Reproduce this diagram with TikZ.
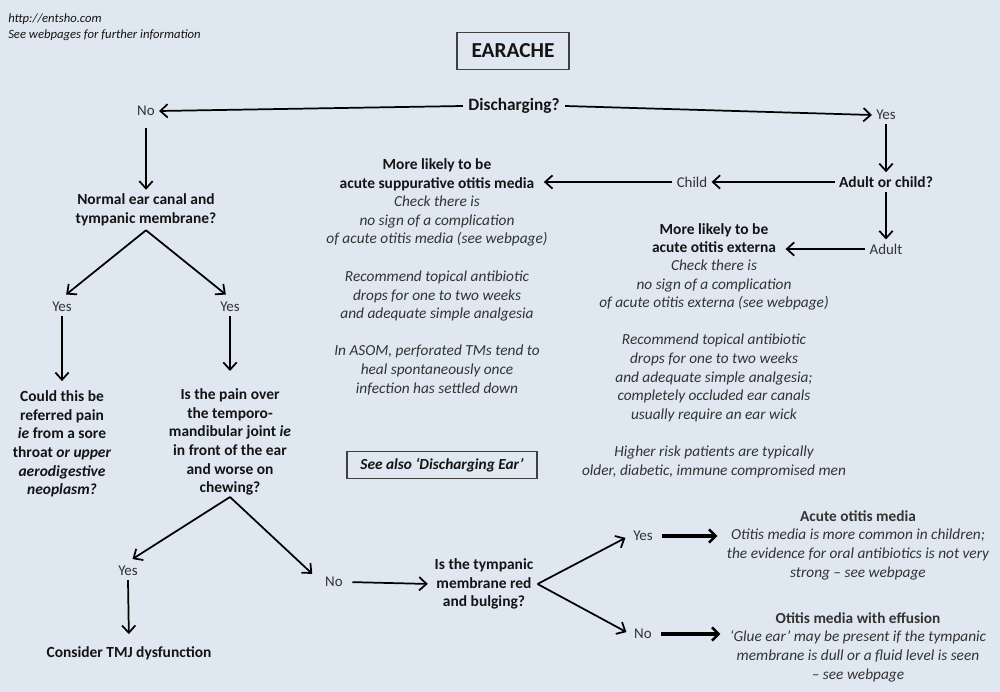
\documentclass[tikz,border=0pt]{standalone}
\usepackage{fontspec}
\setmainfont{Carlito}
\usetikzlibrary{arrows.meta,calc}
\definecolor{bg}{HTML}{DFE7F1}
\definecolor{txt}{HTML}{141414}
\definecolor{lbl}{HTML}{333333}
\begin{document}
\begin{tikzpicture}[x=0.75pt,y=-0.75pt,
  every node/.style={inner sep=1pt, align=center, text=txt},
  hd/.style={font=\fontsize{11.6}{14}\selectfont\bfseries},
  bd/.style={font=\fontsize{11.5}{14}\selectfont\itshape, text=lbl},
  mix/.style={font=\fontsize{11.5}{14}\selectfont, text=lbl},
  lab/.style={font=\fontsize{11.2}{13}\selectfont, text=lbl, inner sep=3pt},
  arr/.style={draw=black, line width=1.3pt, -{Straight Barb[length=5.5pt,width=10pt,line width=1.3pt]}},
  thk/.style={draw=black, line width=2.5pt, -{Straight Barb[length=5pt,width=10pt,line width=1.8pt]}},
  boxed/.style={draw=black!75, line width=0.8pt},
]
\fill[bg] (0,0) rectangle (1000,692);
\useasboundingbox (0,0) rectangle (1000,692);

% header
\node[anchor=west, font=\fontsize{9.5}{11}\selectfont\itshape, inner sep=0pt] (url) at (8,19) {http://entsho.com};
\node[anchor=west, font=\fontsize{9.5}{11}\selectfont\itshape, inner sep=0pt] (see) at (8,35) {See webpages for further information};

\node[boxed, font=\fontsize{16}{18}\selectfont\bfseries, minimum width=84pt, minimum height=28pt] (title) at (513,51) {EARACHE};

% top level
\node[hd, font=\fontsize{13}{15}\selectfont\bfseries, inner sep=4pt] (disch) at (514,106) {Discharging?};
\node[lab] (noA) at (146,111) {No};
\node[lab] (yesA) at (886,115) {Yes};
\node[hd, inner sep=3pt] (aoc) at (886,182) {Adult or child?};
\node[lab] (child) at (692,182) {Child};
\node[lab] (adult) at (886,249) {Adult};

% suppurative otitis media block
\node[hd] (asomT) at (437,175) {More likely to be\\acute suppurative otitis media};
\node[bd] (asom1) at (437,221) {Check there is\\no sign of a complication\\of acute otitis media (see webpage)};
\node[bd] (asom2) at (437,296) {Recommend topical antibiotic\\drops for one to two weeks\\and adequate simple analgesia};
\node[bd] (asom3) at (437,370) {In ASOM, perforated TMs tend to\\heal spontaneously once\\infection has settled down};
\node[boxed, font=\fontsize{11.5}{14}\selectfont\bfseries\itshape, minimum width=142.5pt, minimum height=20pt] (seealso) at (442,465) {See also ‘Discharging Ear’};

% otitis externa block
\node[hd] (aoeT) at (714,238) {More likely to be\\acute otitis externa};
\node[bd] (aoe1) at (714,285) {Check there is\\no sign of a complication\\of acute otitis externa (see webpage)};
\node[bd] (aoe2) at (714,378) {Recommend topical antibiotic\\drops for one to two weeks\\and adequate simple analgesia;\\completely occluded ear canals\\usually require an ear wick};
\node[bd] (aoe3) at (714,462) {Higher risk patients are typically\\older, diabetic, immune compromised men};

% left branch
\node[hd, inner sep=3pt] (normal) at (146,210) {Normal ear canal and\\tympanic membrane?};
\node[lab] (yesL) at (62,307) {Yes};
\node[lab] (yesR) at (230,307) {Yes};
\node[hd] (referred) at (62,444) {Could this be\\referred pain\\\textit{ie} from a sore\\throat \textit{or upper}\\\textit{aerodigestive}\\\textit{neoplasm?}};
\node[hd] (tmj) at (230,442) {Is the pain over\\the temporo-\\mandibular joint \textit{ie}\\in front of the ear\\and worse on\\chewing?};
\node[lab] (yesT) at (128,571) {Yes};
\node[lab] (noT) at (334,582) {No};
\node[hd] (consider) at (129,653) {Consider TMJ dysfunction};
\node[hd, inner sep=3pt] (tymp) at (484,584) {Is the tympanic\\membrane red\\and bulging?};
\node[lab] (yesM) at (643,536) {Yes};
\node[lab] (noM) at (643,634) {No};
\node[mix] (aom) at (858,545) {{\bfseries Acute otitis media}\\{\itshape Otitis media is more common in children;}\\{\itshape the evidence for oral antibiotics is not very}\\{\itshape strong – see webpage}};
\node[mix] (ome) at (858,647) {{\bfseries Otitis media with effusion}\\{\itshape ‘Glue ear’ may be present if the tympanic}\\{\itshape membrane is dull or a fluid level is seen}\\{\itshape – see webpage}};

% connectors
\draw[arr] (disch.west) -- (noA.east);
\draw[arr] (disch.east) -- (yesA.west);
\draw[arr] (yesA.south) -- (aoc.north);
\draw[arr] (aoc.west) -- (child.east);
\draw[arr, shorten >=6pt] (child.west) -- (asomT.east |- child.west);
\draw[arr] (aoc.south) -- (adult.north);
\draw[arr, shorten >=6pt] (adult.west) -- (aoeT.east |- adult.west);
\draw[arr, shorten <=6pt] (noA.south) -- (normal.north);
\draw[arr, shorten >=4pt] (normal.south) -- (yesL.north);
\draw[arr, shorten >=4pt] (normal.south) -- (yesR.north);
\draw[arr, shorten >=6pt] (yesL.south) -- (referred.north);
\draw[arr, shorten >=12pt] (yesR.south) -- (tmj.north);
\draw[arr, shorten >=4pt] (tmj.south) -- (yesT.north);
\draw[arr, shorten >=9pt] (tmj.south) -- (noT.west);
\draw[arr, shorten >=8pt] (yesT.south) -- (consider.north);
\draw[arr, shorten <=4pt, shorten >=2pt] (noT.east) -- (tymp.west);
\draw[arr, shorten >=3pt] (tymp.east) -- (yesM.west);
\draw[arr, shorten >=3pt] (tymp.east) -- (noM.west);
\draw[thk, shorten <=4pt, shorten >=6pt] (yesM.east) -- (yesM.east -| aom.west);
\draw[thk, shorten <=4pt, shorten >=6pt] (noM.east) -- (noM.east -| ome.west);
\end{tikzpicture}
\end{document}
